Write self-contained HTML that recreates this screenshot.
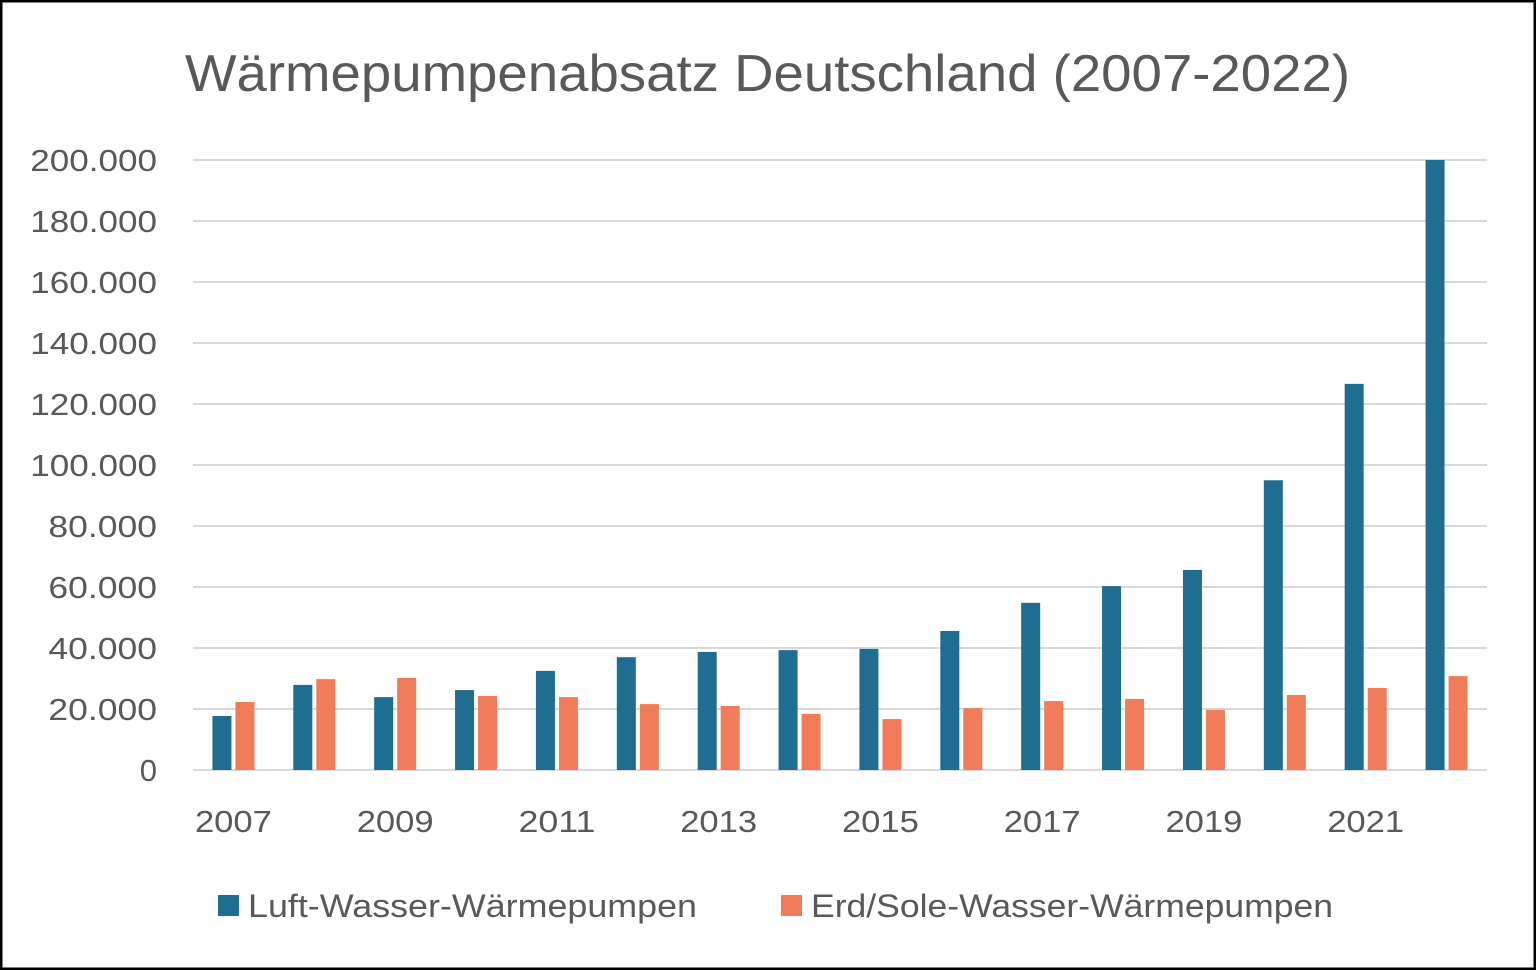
<!DOCTYPE html>
<html><head><meta charset="utf-8"><style>
html,body{margin:0;padding:0;background:#fff;}
svg{display:block;font-family:"Liberation Sans","DejaVu Sans",sans-serif;}
</style></head><body>
<svg id="chart" width="1536" height="970" viewBox="0 0 1536 970">
<rect x="1" y="1" width="1534" height="968" fill="#fff" stroke="#000" stroke-width="3"/>
<text x="185" y="91" font-size="52" fill="#595959" textLength="1165" lengthAdjust="spacingAndGlyphs">Wärmepumpenabsatz Deutschland (2007-2022)</text>
<g id="grid"></g><g id="bars"></g><g id="labels"></g>
<g>
<rect x="218" y="895" width="21" height="21" fill="#1f6e91"/>
<text x="248" y="917" font-size="32" fill="#595959" textLength="449" lengthAdjust="spacingAndGlyphs">Luft-Wasser-Wärmepumpen</text>
<rect x="781" y="895" width="21" height="21" fill="#f07c5a"/>
<text x="811" y="917" font-size="32" fill="#595959" textLength="522" lengthAdjust="spacingAndGlyphs">Erd/Sole-Wasser-Wärmepumpen</text>
</g>
</svg>
<script>
const years=[2007,2008,2009,2010,2011,2012,2013,2014,2015,2016,2017,2018,2019,2020,2021,2022];
const luft=[17700,27900,23900,26200,32500,37000,38700,39300,39700,45600,54800,60300,65600,95000,126600,200000];
const erd=[22300,29800,30200,24300,23900,21600,21000,18400,16700,20300,22600,23300,19700,24600,26900,30800];
const yTicks=[0,20000,40000,60000,80000,100000,120000,140000,160000,180000,200000];
const ns="http://www.w3.org/2000/svg";
const x0=193,x1=1487,y0=770,yTop=160,maxV=200000;
const step=(x1-x0)/years.length;
const y=v=>y0-(v/maxV)*(y0-yTop);
const xc=i=>x0+step*(i+0.5)-1;
function mk(t,a,p){const e=document.createElementNS(ns,t);for(const k in a)e.setAttribute(k,a[k]);p.appendChild(e);return e;}
const grid=document.getElementById('grid'),bars=document.getElementById('bars'),labels=document.getElementById('labels');
const fmt=v=>v===0?"0":v.toLocaleString('de-DE');
yTicks.forEach(v=>{
 const l=mk('line',{x1:x0,x2:x1,y1:y(v),y2:y(v),stroke:'#d9d9d9','stroke-width':2},grid);
 
 
 const s=fmt(v);
 const a={x:157,y:y(v)+11,'text-anchor':'end','font-size':31,fill:'#595959'};
 if(s.length>1){a.textLength=s.length*18.1;a.lengthAdjust='spacingAndGlyphs';}
 const t=mk('text',a,labels);
 t.textContent=s;
 
 
});
years.forEach((yr,i)=>{
 const c=xc(i);
 const b=mk('rect',{x:c-20,y:y(luft[i]),width:19,height:y0-y(luft[i]),fill:'#1f6e91'},bars);
 
 
 const o=mk('rect',{x:c+3,y:y(erd[i]),width:19,height:y0-y(erd[i]),fill:'#f07c5a'},bars);
 
 
 if(i%2===0){
  const t=mk('text',{x:c+1,y:832,'text-anchor':'middle','font-size':31,fill:'#595959',textLength:77,lengthAdjust:'spacingAndGlyphs'},labels);
  t.textContent=yr;
  
  
 }
});
</script>
</body></html>
